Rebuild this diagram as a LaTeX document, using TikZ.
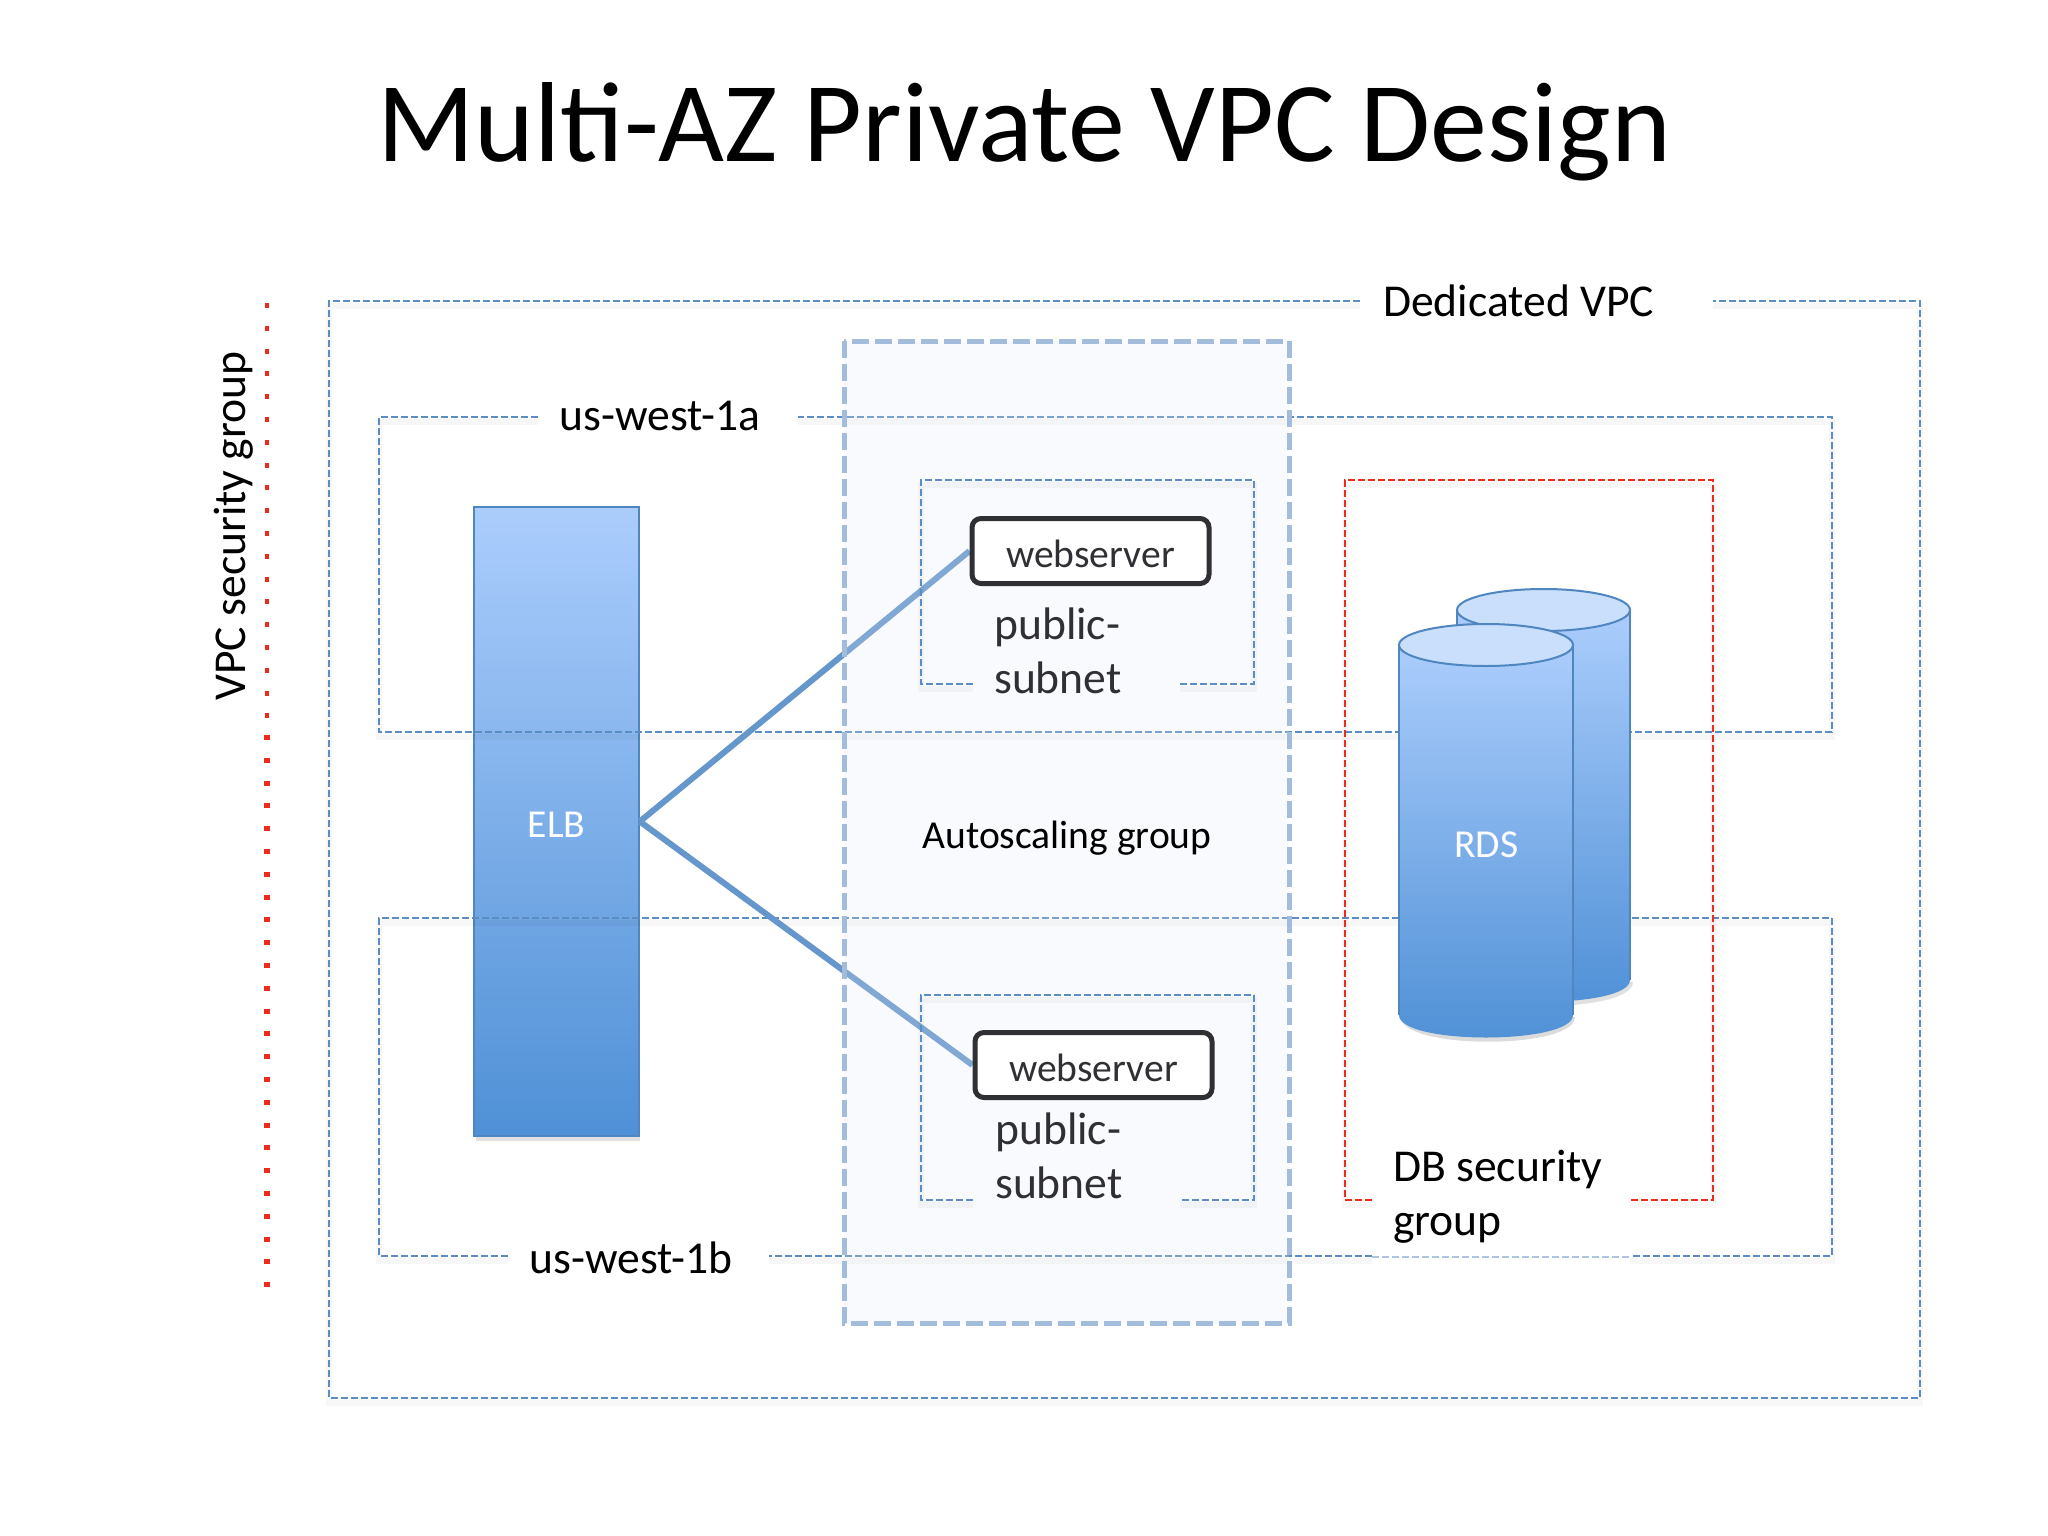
\documentclass[tikz,border=0pt]{standalone}
\usepackage{fontspec}
\setmainfont{Carlito}
\pgfdeclarelayer{back}
\pgfdeclarelayer{conn}
\pgfdeclarelayer{panel}
\pgfsetlayers{back,conn,panel,main}
\definecolor{bluedash}{HTML}{5B8CC4}
\definecolor{reddash}{HTML}{EE2B1A}
\definecolor{paneldash}{HTML}{A3BCDC}
\definecolor{gradtop}{HTML}{ABCDFC}
\definecolor{gradbot}{HTML}{4F90D6}
\definecolor{capfill}{HTML}{C9DFFB}
\definecolor{edgeblue}{HTML}{4F86C0}
\definecolor{inktext}{HTML}{303034}
\definecolor{panelfill}{HTML}{E8EAF6}
\definecolor{linkblue}{HTML}{6596CC}
\tikzset{
  x=1pt,y=-1pt,
  softshadow/.style={preaction={draw=black,draw opacity=.03,line width=6pt,solid,transform canvas={yshift=-5pt}}},
  bluebox/.style={draw=bluedash,line width=1.7pt,dash pattern=on 7pt off 3pt,softshadow},
  redbox/.style={draw=reddash,line width=1.9pt,dash pattern=on 7pt off 3pt,softshadow},
  reddots/.style={draw=reddash,dash pattern=on 5pt off 17.8pt},
  label45/.style={font=\fontsize{45.6}{54}\selectfont,inner sep=0pt,text=black},
  label39/.style={font=\fontsize{39.6}{47}\selectfont,inner sep=0pt},
  subnetlabel/.style={font=\fontsize{45.6}{54}\selectfont,inner sep=0pt,align=left,anchor=north west,text=inktext},
  webbox/.style={draw=inktext,line width=5pt,rounded corners=9pt,fill=white,font=\fontsize{39.6}{47}\selectfont,text=inktext,inner sep=0pt,text height=33pt,text depth=0pt},
  link/.style={draw=linkblue,line width=6pt},
  cylbody/.style={top color=gradtop,bottom color=gradbot},
  cyledge/.style={draw=edgeblue,line width=2pt},
  capstyle/.style={fill=capfill,draw=edgeblue,line width=2pt},
}
\begin{document}
\begin{tikzpicture}
\useasboundingbox (0,0) rectangle (2048,1536);

\node[font=\fontsize{113.8}{136}\selectfont,anchor=base,inner sep=0pt] (title) at (1024.5,161) {Multi-AZ Private VPC Design};

\begin{pgfonlayer}{back}
  \fill[white] (0,0) rectangle (2048,1536);
  % outer VPC
  \draw[bluebox] (1360,301) -- (329,301) -- (329,1398) -- (1920,1398) -- (1920,301) -- (1713,301);
  % ELB
  \fill[black,opacity=.12] (476,1136) rectangle (640,1141);
  \shade[cylbody] (474,507) rectangle (639,1136);
  \node[minimum width=165pt,minimum height=629pt,draw=edgeblue,line width=1.6pt,inner sep=0pt,font=\fontsize{39.6}{47}\selectfont,text=white,text height=32pt,text depth=0pt] (elb) at (556.5,821.5) {ELB};
  % availability zones
  \draw[bluebox] (538,417) -- (379,417) -- (379,732) -- (1832,732) -- (1832,417) -- (798,417);
  \draw[bluebox] (508,1256) -- (379,1256) -- (379,918) -- (1832,918) -- (1832,1256) -- (1630,1256);
  \draw[bluebox] (1372,1256) -- (769,1256);
  \draw[draw=bluedash!50,line width=1.2pt,dash pattern=on 7pt off 3pt] (1372,1257) -- (1630,1257);
\end{pgfonlayer}

\begin{pgfonlayer}{panel}
  \fill[fill=panelfill,fill opacity=.22] (844,341) rectangle (1289,1323);
  \draw[draw=paneldash,line width=5pt,dash pattern=on 17pt off 6pt] (844,341) rectangle (1289,1323);
\end{pgfonlayer}

% subnets
\draw[bluebox] (973,684) -- (921,684) -- (921,480) -- (1254,480) -- (1254,684) -- (1180,684);
\draw[bluebox] (973,1200) -- (921,1200) -- (921,995) -- (1254,995) -- (1254,1200) -- (1180,1200);

% webservers
\node[webbox,minimum width=237pt,minimum height=65pt] (web1) at (1090.5,551) {webserver};
\node[webbox,minimum width=237pt,minimum height=65pt] (web2) at (1093.5,1065) {webserver};

\begin{pgfonlayer}{conn}
  \draw[link] (elb.east) -- (web1.west);
  \draw[link] (elb.east) -- (web2.west);
\end{pgfonlayer}

\node[subnetlabel] (pub1) at (994,608) {public-\\subnet};
\node[subnetlabel] (pub2) at (995,1113) {public-\\subnet};

% DB security group
\draw[redbox] (1372,1200) -- (1345,1200) -- (1345,480) -- (1713,480) -- (1713,1200) -- (1630,1200);

% rear cylinder
\fill[black,opacity=.12] (1460,982) .. controls (1460,1014) and (1633,1014) .. (1633,982) -- cycle;
\shade[cylbody] (1457,610) -- (1457,980) .. controls (1457,1009) and (1630,1009) .. (1630,980) -- (1630,610) -- cycle;
\draw[cyledge] (1457,610) -- (1457,660);
\draw[cyledge] (1630,610) -- (1630,980);
\draw[capstyle] (1543.5,610) ellipse [x radius=86.5pt,y radius=21pt];
% front cylinder
\fill[black,opacity=.14] (1401,1017) .. controls (1401,1050) and (1575,1050) .. (1575,1017) -- cycle;
\shade[cylbody] (1399,645) -- (1399,1015) .. controls (1399,1045) and (1573,1045) .. (1573,1015) -- (1573,645) -- cycle;
\draw[cyledge] (1399,645) -- (1399,1015);
\draw[cyledge] (1573,645) -- (1573,1015);
\draw[capstyle] (1486,645) ellipse [x radius=87pt,y radius=21pt];
\node[label39,text=white] (rds) at (1486.5,845) {RDS};

% red dotted edge
\draw[reddots,line width=4pt] (267,303) -- (267,735);
\draw[reddots,line width=6pt] (266.5,735) -- (266.5,1287);

% labels
\node[label45] (vpc) at (1518.5,301) {Dedicated VPC};
\node[label45] (aza) at (660,416) {us-west-1a};
\node[label45] (azb) at (631,1258) {us-west-1b};
\node[label39,text=black] (asg) at (1067,838) {Autoscaling group};
\node[label45,rotate=90] (vpcsg) at (234,526) {VPC security group};
\node[label45,align=left,anchor=north west] (dbsg) at (1393,1150) {DB security\\group};
\end{tikzpicture}
\end{document}
